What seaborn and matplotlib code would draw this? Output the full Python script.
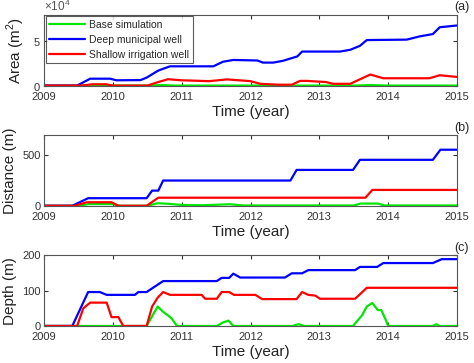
import numpy as np
import pandas as pd
import seaborn as sns
import matplotlib.pyplot as plt
from matplotlib.ticker import ScalarFormatter

# ---- data (time in decimal years) ----
series_names = ['Base simulation', 'Deep municipal well', 'Shallow irrigation well']
colors = ['#00e600', '#0000ff', '#ff0000']

# (a) Area (m^2)
area_base_t = [2009.0, 2010.5, 2010.7, 2010.9, 2013.5, 2013.75, 2014.0, 2015.0]
area_base_v = [0, 0, 600, 0, 0, 600, 0, 0]
area_deep_t = [2009.0, 2009.48, 2009.67, 2009.96, 2010.05, 2010.4, 2010.49, 2010.66, 2010.83,
               2011.46, 2011.6, 2011.75, 2012.1, 2012.18, 2012.33, 2012.47, 2012.68, 2012.75,
               2013.3, 2013.45, 2013.59, 2013.69, 2014.27, 2014.46, 2014.65, 2014.75, 2015.0]
area_deep_v = [0, 0, 7800, 7800, 6000, 6200, 9000, 17000, 21800,
               21800, 27000, 29000, 28400, 26000, 26000, 28000, 33000, 38500,
               38500, 40500, 45000, 51500, 52000, 55700, 58300, 66000, 68000]
area_shal_t = [2009.0, 2009.55, 2009.7, 2009.9, 2010.0, 2010.5, 2010.66, 2010.8, 2011.0,
               2011.4, 2011.66, 2012.0, 2012.14, 2012.4, 2012.6, 2012.72, 2012.82, 2013.1,
               2013.2, 2013.45, 2013.74, 2013.93, 2014.6, 2014.75, 2015.0]
area_shal_v = [0, 0, 1500, 1500, 0, 0, 4000, 7200, 6000,
               5000, 7000, 5000, 2000, 1000, 1000, 5300, 5300, 4000,
               2000, 2000, 12500, 8300, 8300, 11700, 9800]

# (b) Distance (m)
dist_base_t = [2009.0, 2009.5, 2009.65, 2010.0, 2010.1, 2010.5, 2010.65, 2010.8, 2011.0,
               2011.3, 2011.7, 2011.9, 2013.5, 2013.6, 2013.85, 2013.95, 2015.0]
dist_base_v = [0, 0, 17, 17, 0, 0, 25, 20, 8, 5, 15, 3, 3, 22, 22, 3, 3]
dist_deep_t = [2009.0, 2009.41, 2009.64, 2010.49, 2010.57, 2010.66, 2010.73, 2012.58, 2012.67,
               2013.49, 2013.59, 2014.65, 2014.76, 2015.0]
dist_deep_v = [0, 0, 75, 75, 150, 150, 250, 250, 355, 355, 455, 455, 555, 555]
dist_shal_t = [2009.0, 2009.44, 2009.62, 2009.98, 2010.08, 2010.49, 2010.66, 2013.67, 2013.77, 2015.0]
dist_shal_v = [0, 0, 35, 35, 0, 0, 80, 80, 157, 157]

# (c) Depth (m)
depth_base_t = [2009.0, 2010.49, 2010.65, 2010.73, 2010.8, 2010.86, 2010.93, 2011.51, 2011.6,
                2011.68, 2011.75, 2012.61, 2012.7, 2012.78, 2013.49, 2013.62, 2013.69, 2013.77,
                2013.85, 2013.9, 2013.96, 2014.0, 2014.65, 2014.7, 2014.75, 2015.0]
depth_base_v = [0, 0, 55, 40, 30, 20, 0, 0, 10, 15, 0, 0, 5, 0, 0, 30, 55, 65,
                45, 45, 20, 0, 0, 5, 0, 0]
depth_deep_t = [2009.0, 2009.41, 2009.64, 2009.81, 2009.91, 2010.32, 2010.37, 2010.49, 2010.73,
                2011.51, 2011.58, 2011.69, 2011.75, 2011.85, 2012.5, 2012.6, 2012.75, 2012.84,
                2013.52, 2013.59, 2013.84, 2013.93, 2014.65, 2014.78, 2015.0]
depth_deep_v = [0, 0, 96, 96, 88, 88, 96, 96, 127, 127, 136, 136, 148, 137, 137, 149,
                149, 158, 158, 167, 167, 178, 178, 189, 189]
depth_shal_t = [2009.0, 2009.48, 2009.57, 2009.67, 2009.91, 2009.98, 2010.08, 2010.15, 2010.49,
                2010.57, 2010.65, 2010.73, 2010.83, 2011.29, 2011.34, 2011.51, 2011.58, 2011.69,
                2011.76, 2012.07, 2012.17, 2012.67, 2012.75, 2012.84, 2012.94, 2013.01, 2013.52,
                2013.62, 2013.69, 2015.0]
depth_shal_v = [0, 0, 50, 66, 66, 25, 25, 0, 0, 55, 80, 96, 88, 88, 77, 77, 96, 96,
                88, 88, 76, 76, 96, 88, 86, 77, 77, 95, 108, 108]

panels = [
    ('Area (m$^2$)', (0, 80000), [0, 50000],
     [(area_base_t, area_base_v), (area_deep_t, area_deep_v), (area_shal_t, area_shal_v)], '(a)'),
    ('Distance (m)', (0, 700), [0, 500],
     [(dist_base_t, dist_base_v), (dist_deep_t, dist_deep_v), (dist_shal_t, dist_shal_v)], '(b)'),
    ('Depth (m)', (0, 200), [0, 100, 200],
     [(depth_base_t, depth_base_v), (depth_deep_t, depth_deep_v), (depth_shal_t, depth_shal_v)], '(c)'),
]
years = [2009, 2010, 2011, 2012, 2013, 2014, 2015]

sns.set_style('ticks')
plt.rcParams['font.family'] = ['Liberation Sans', 'DejaVu Sans']
plt.rcParams['mathtext.fontset'] = 'custom'
plt.rcParams['mathtext.rm'] = 'Liberation Sans'

fig, axes = plt.subplots(3, 1, figsize=(4.74, 3.63), dpi=100)
fig.subplots_adjust(left=0.093, right=0.964, top=0.959, bottom=0.102, hspace=0.70)

for ax, (ylab, ylim, yticks, lines, tag) in zip(axes, panels):
    for name, col, (t, v) in zip(series_names, colors, lines):
        df = pd.DataFrame({'t': t, 'v': v})
        sns.lineplot(data=df, x='t', y='v', ax=ax, color=col, linewidth=1.6,
                     label=name, sort=False, legend=(tag == '(a)'))
    ax.set_xlim(2009, 2015)
    ax.set_ylim(*ylim)
    ax.set_xticks(years)
    ax.set_yticks(yticks)
    ax.set_xlabel('Time (year)', fontsize=11, color='#222222', labelpad=2)
    ax.set_ylabel(ylab, fontsize=11, color='#222222', labelpad=4)
    ax.tick_params(direction='in', top=True, right=True, length=3, labelsize=8,
                   colors='#333333')
    ax.tick_params(axis='x', pad=4.5)
    ax.tick_params(axis='y', pad=2.5)
    for s in ax.spines.values():
        s.set_color('#555555')
        s.set_linewidth(0.8)
    ax.text(1.012, 1.02, tag, transform=ax.transAxes, ha='center', va='bottom', fontsize=9)

fmt = ScalarFormatter(useMathText=True)
fmt.set_powerlimits((4, 4))
axes[0].yaxis.set_major_formatter(fmt)
axes[0].yaxis.get_offset_text().set_fontsize(8.5)
axes[0].yaxis.get_offset_text().set_color('#555555')
leg = axes[0].legend(loc='upper left', fontsize=7.5, frameon=True, fancybox=False,
                     edgecolor='#333333', handlelength=3.5, borderpad=0.3,
                     labelspacing=0.5, borderaxespad=0.15, handletextpad=0.4)
leg.get_frame().set_linewidth(0.8)

fig.savefig('out.png', dpi=100)
